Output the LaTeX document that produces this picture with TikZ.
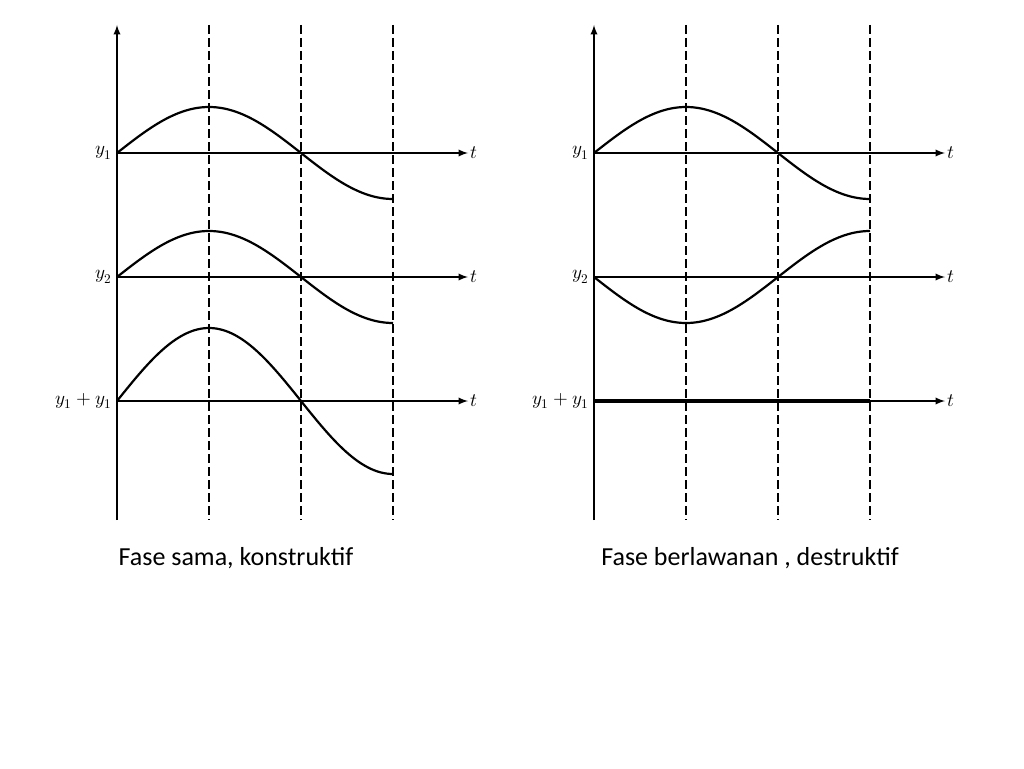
\documentclass[tikz,border=0pt]{standalone}
\usepackage{fontspec}
\setmainfont{Carlito}
\usepackage{unicode-math}
\setmathfont{Latin Modern Math}
\begin{document}
\begin{tikzpicture}[x=1pt,y=-1pt,
  ax/.style={line width=2.2pt,-latex},
  dsh/.style={line width=2pt,dash pattern=on 9pt off 4pt},
  wave/.style={line width=2.2pt},
  lab/.style={font=\fontsize{19}{22}\selectfont,anchor=east,inner sep=1pt},
  captxt/.style={font=\fontsize{26}{30}\selectfont}]
\useasboundingbox (0,0) rectangle (1024,768);
\foreach \ox/\nm in {117/L,594/R}{
  \coordinate (\nm top) at (\ox,25);
  \coordinate (\nm bot) at (\ox,520);
  \draw[ax] (\nm bot) -- (\nm top);
  \foreach \k in {1,2,3}{
    \coordinate (\nm d\k t) at (\ox+92*\k,25);
    \coordinate (\nm d\k b) at (\ox+92*\k,520);
    \draw[dsh] (\nm d\k t) -- (\nm d\k b);}
  \foreach \yy/\i in {153/1,277/2,401/3}{
    \coordinate (\nm a\i) at (\ox,\yy);
    \coordinate (\nm e\i) at (\ox+351,\yy);
    \draw[ax] (\nm a\i) -- (\nm e\i);
    \node[font=\fontsize{19}{22}\selectfont,anchor=west,inner sep=2pt] (\nm t\i) at (\nm e\i) {$t$};}
  \node[lab] (\nm l1) at ([xshift=-4pt]\nm a1) {$y_1$};
  \node[lab] (\nm l2) at ([xshift=-4pt]\nm a2) {$y_2$};
  \node[lab] (\nm l3) at ([xshift=-4pt]\nm a3) {$y_1+y_1$};
}
% left waves
\draw[wave] plot[domain=0:276,samples=90] ({117+\x},{153-46*sin(\x/184*180)});
\draw[wave] plot[domain=0:276,samples=90] ({117+\x},{277-46*sin(\x/184*180)});
\draw[wave] plot[domain=0:276,samples=90] ({117+\x},{401-73*sin(\x/184*180)});
% right waves
\draw[wave] plot[domain=0:276,samples=90] ({594+\x},{153-46*sin(\x/184*180)});
\draw[wave] plot[domain=0:276,samples=90] ({594+\x},{277+46*sin(\x/184*180)});
\draw[line width=4pt] (Ra3) -- (Rd3b |- Ra3);
\node[captxt] (c1) at (236,558) {Fase sama, konstruktif};
\node[captxt] (c2) at (750,558) {Fase berlawanan , destruktif};
\end{tikzpicture}
\end{document}
